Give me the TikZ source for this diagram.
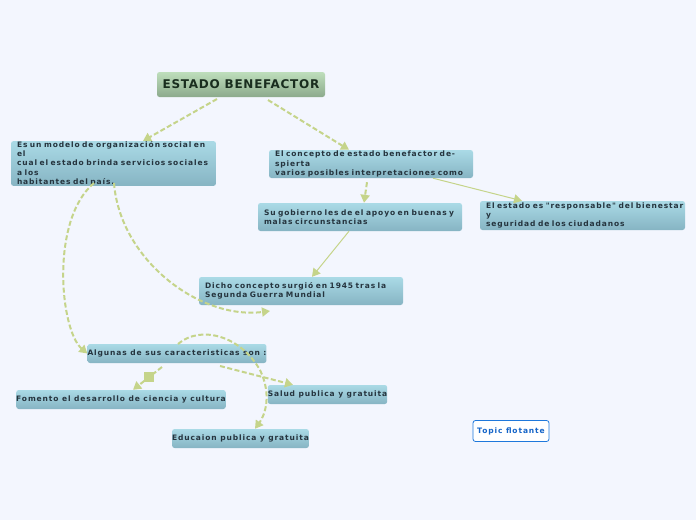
\documentclass[tikz,border=0pt]{standalone}
\usepackage{fontspec}
\setmainfont{DejaVu Sans}
\newfontfamily\wide[LetterSpace=12]{DejaVu Sans}
\newfontfamily\widet[LetterSpace=6]{DejaVu Sans}
\usetikzlibrary{arrows.meta,shapes.geometric}
\definecolor{bg}{HTML}{F3F6FE}
\definecolor{lk}{HTML}{C5D48A}
\definecolor{txt}{HTML}{25343E}
\begin{document}
\begin{tikzpicture}[x=1pt,y=-1pt,
 box/.style={rectangle,rounded corners=2.5pt,top color={rgb,255:red,170;green,218;blue,230},bottom color={rgb,255:red,134;green,180;blue,195},text=txt,font=\wide\bfseries\fontsize{7.5}{9.3}\selectfont,inner sep=0pt,align=left},
 dl/.style={draw=lk,line width=2pt,dash pattern=on 5pt off 2.5pt,-{Triangle[length=8pt,width=9pt]}},
 sl/.style={draw=lk,line width=1pt,-{Triangle[length=8pt,width=9pt]}}]
\fill[bg] (0,0) rectangle (696,520);
\node[rectangle,rounded corners=2.5pt,top color={rgb,255:red,190;green,222;blue,188},bottom color={rgb,255:red,140;green,170;blue,140},minimum width=168,minimum height=25,font=\widet\bfseries\fontsize{12}{14}\selectfont,text={rgb,255:red,25;green,45;blue,30},inner sep=0pt] (t) at (241,84.5) {ESTADO BENEFACTOR};
\node[box,minimum width=205,minimum height=37,text width=193] (a) at (113.5,163.5) {Es un modelo de organización social en el\\cual el estado brinda servicios sociales a los\\habitantes del país.};
\node[box,minimum width=204,minimum height=28,text width=192] (b) at (371,164) {El concepto de estado benefactor despierta\\varios posibles interpretaciones como};
\node[box,minimum width=204,minimum height=28,text width=192] (c) at (360,217) {Su gobierno les de el apoyo en buenas y\\malas circunstancias};
\node[box,minimum width=205,minimum height=29,text width=193] (d) at (582.5,215.5) {El estado es "responsable" del bienestar y\\seguridad de los ciudadanos};
\node[box,minimum width=204,minimum height=28,text width=192] (e) at (301,291) {Dicho concepto surgió en 1945 tras la\\Segunda Guerra Mundial};
\node[box,minimum width=168,minimum height=19,align=center] (f) at (177,353.5) {Algunas de sus caracteristicas son :};
\node[box,minimum width=194,minimum height=19,align=center] (g) at (121,399.5) {Fomento el desarrollo de ciencia y cultura};
\node[box,minimum width=117,minimum height=19,align=center] (h) at (327.5,394.5) {Salud publica y gratuita};
\node[box,minimum width=131,minimum height=19,align=center] (i) at (240.5,438.5) {Educaion publica y gratuita};
\node[rectangle,rounded corners=2.5pt,draw={rgb,255:red,30;green,120;blue,220},line width=0.8pt,fill=white,minimum width=76,minimum height=21,font=\wide\bfseries\fontsize{7.5}{9.3}\selectfont,text={rgb,255:red,20;green,100;blue,200},inner sep=0pt] (fl) at (511,431) {Topic flotante};
% connectors
\coordinate (t1) at (217,99); \coordinate (t2) at (268,100);
\draw[dl] (t1) -- (a.north -| 143,0);
\draw[dl] (t2) -- (b.north -| 349,0);
\draw[dl] (b.south -| 367,0) ++(0,4) -- (c.north -| 364,0);
\draw[sl] (b.south -| 433,0) -- (d.north -| 522,0);
\draw[sl] (c.south -| 349,0) -- (e.north -| 312,0);
\coordinate (a1) at (114,183); \coordinate (e1) at (270,311);
\draw[dl] (a1) .. controls (120,260) and (200,320) .. (e1);
\coordinate (a2) at (94,183);
\draw[dl] (a2) .. controls (50,220) and (60,330) .. (f.west);
\coordinate (f1) at (162,367); \coordinate (f2) at (220,366); \coordinate (f3) at (178,344);
\draw[dl] (f1) -- (g.north -| 133,0);
\fill[lk] (149,377) ++(-5,-5) rectangle ++(10,10);
\draw[dl] (f2) -- (h.north -| 293,0);
\draw[dl] (f3) .. controls (200,325) and (240,335) .. (260,370) .. controls (272,395) and (265,415) .. (i.north -| 255,0);
\end{tikzpicture}
\end{document}
